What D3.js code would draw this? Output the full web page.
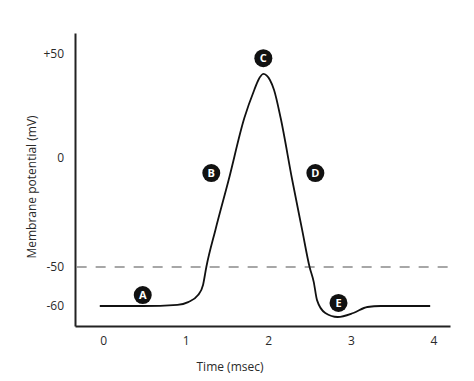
<!DOCTYPE html>
<html>
<head>
<meta charset="utf-8">
<script src="https://cdn.jsdelivr.net/npm/d3@7"></script>
<style>
  body { margin: 0; background: #fff; }
  text { font-family: "Open Sans", "DejaVu Sans", sans-serif; fill: #2a2a2a; }
</style>
</head>
<body>
<div id="main-content"></div>
<script>
// membrane potential trace (time in msec, mV)
const times = [-0.04, 0.48, 0.9, 1.03, 1.15, 1.21, 1.25, 1.36, 1.52, 1.71, 1.83, 1.88, 1.94, 2.02, 2.07, 2.15, 2.29, 2.41, 2.50, 2.55, 2.59, 2.69, 2.84, 3.03, 3.2, 3.36, 3.96];
const volts = [-60, -60, -59.7, -59, -57.2, -54.6, -50, -33, -10.1, 19.2, 32.7, 37.5, 40.4, 37.5, 32.7, 19.2, -10.1, -33, -50, -53.8, -58.5, -61.75, -62.75, -61.75, -60.25, -60, -60];

const xTicks = [0, 1, 2, 3, 4];
const yTicks = [-60, -50, 0, 50];
const yTickLabels = ["-60", "-50", "0", "+50"];
const threshold = -50;

const markerNames = ["A", "B", "C", "D", "E"];
const markerTimes = [0.48, 1.31, 1.94, 2.57, 2.85];
const markerVolts = [-57.2, -6.9, 48, -6.9, -59.2];

const width = 474, height = 381;

const svg = d3.select("#main-content")
  .append("svg")
  .attr("width", width)
  .attr("height", height);

const x = d3.scaleLinear().domain([-0.34, 4.2]).range([75, 450]);
// schematic y axis: spacing is not uniform in the original
const y = d3.scaleLinear()
  .domain([-65, -60, -50, 0, 50, 60])
  .range([326, 306, 267, 158, 54, 33]);

// axes
const xAxis = svg.append("g")
  .attr("transform", "translate(0," + y(-65) + ")")
  .call(d3.axisBottom(x).tickValues(xTicks).tickSize(0).tickPadding(10).tickFormat(d3.format("d")));

const yAxis = svg.append("g")
  .attr("transform", "translate(" + x(-0.34) + ",0)")
  .call(d3.axisLeft(y).tickValues(yTicks).tickSize(0).tickPadding(11)
    .tickFormat((d, i) => yTickLabels[i]));

[xAxis, yAxis].forEach(g => {
  g.select(".domain").attr("stroke", "#222").attr("stroke-width", 2);
  g.selectAll("text").style("font-size", "12px").attr("fill", "#2a2a2a");
});

// threshold line
svg.append("line")
  .attr("x1", x(-0.32)).attr("x2", x(4.25))
  .attr("y1", y(threshold)).attr("y2", y(threshold))
  .attr("stroke", "#8a8a8a")
  .attr("stroke-width", 1.5)
  .attr("stroke-dasharray", "10,9");

// trace
const points = times.map((t, i) => [t, volts[i]]);
const line = d3.line()
  .x(d => x(d[0]))
  .y(d => y(d[1]))
  .curve(d3.curveMonotoneX);

svg.append("path")
  .datum(points)
  .attr("d", line)
  .attr("fill", "none")
  .attr("stroke", "#111")
  .attr("stroke-width", 1.8);

// lettered markers
const markers = svg.selectAll(".marker")
  .data(markerNames)
  .enter()
  .append("g")
  .attr("transform", (d, i) => "translate(" + x(markerTimes[i]) + "," + y(markerVolts[i]) + ")");

markers.append("circle")
  .attr("r", 9)
  .attr("fill", "#111");

markers.append("text")
  .text(d => d)
  .attr("text-anchor", "middle")
  .attr("dy", "0.36em")
  .style("font-size", "11px")
  .style("font-weight", "bold")
  .style("fill", "#fff");

// axis titles
svg.append("text")
  .attr("x", 230)
  .attr("y", 371)
  .attr("text-anchor", "middle")
  .style("font-size", "12px")
  .text("Time (msec)");

svg.append("text")
  .attr("transform", "translate(36,187) rotate(-90)")
  .attr("text-anchor", "middle")
  .style("font-size", "12px")
  .text("Membrane potential (mV)");
</script>
</body>
</html>
